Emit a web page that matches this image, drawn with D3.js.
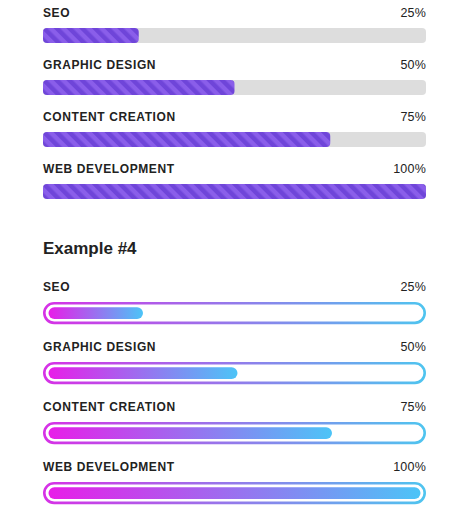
<!DOCTYPE html>
<html>
<head>
<meta charset="utf-8">
<script src="https://cdn.jsdelivr.net/npm/d3@7"></script>
<style>
  body { margin: 0; background: #fff; }
  text { font-family: "Liberation Sans", Arial, sans-serif; fill: #222; }
</style>
</head>
<body>
<svg width="474" height="525"></svg>
<script>
// data
var skills = ["SEO", "GRAPHIC DESIGN", "CONTENT CREATION", "WEB DEVELOPMENT"];
var values = [25, 50, 75, 100];
var heading = "Example #4";

var data = skills.map((s, i) => ({name: s, value: values[i]}));

var svg = d3.select("svg");
var defs = svg.append("defs");

// stripes for the first block
var pat = defs.append("pattern")
  .attr("id", "stripes")
  .attr("patternUnits", "userSpaceOnUse")
  .attr("width", 9).attr("height", 9)
  .attr("patternTransform", "rotate(-45)");
pat.append("rect").attr("width", 9).attr("height", 9).attr("fill", "#8a5eea");
pat.append("rect").attr("width", 4.5).attr("height", 9).attr("fill", "#6f45d9");

// gradients for the second block
var gOut = defs.append("linearGradient").attr("id", "gradOut");
gOut.append("stop").attr("offset", "0%").attr("stop-color", "#d631e6");
gOut.append("stop").attr("offset", "100%").attr("stop-color", "#4fc4ef");

var gIn = defs.append("linearGradient").attr("id", "gradIn");
gIn.append("stop").attr("offset", "0%").attr("stop-color", "#e81de8");
gIn.append("stop").attr("offset", "100%").attr("stop-color", "#4cc4f7");

// scales
var x = d3.scaleLinear().domain([0, 100]).range([43, 426]);
var y1 = d3.scaleBand().domain(skills).range([0, 208]);
var y2 = d3.scaleBand().domain(skills).range([274, 514]);

// ---- block 1: striped bars
var row1 = svg.selectAll("g.r1")
  .data(data)
  .enter()
  .append("g")
  .attr("class", "r1")
  .attr("transform", d => "translate(0," + y1(d.name) + ")");

row1.append("text")
  .attr("x", x(0)).attr("y", 17)
  .attr("font-size", 12).attr("font-weight", "bold")
  .attr("letter-spacing", 0.6)
  .text(d => d.name);

row1.append("text")
  .attr("x", x(100)).attr("y", 17)
  .attr("text-anchor", "end")
  .attr("font-size", 12.5).attr("letter-spacing", 0.2)
  .text(d => d.value + "%");

row1.append("rect")
  .attr("x", x(0)).attr("y", 28)
  .attr("width", x(100) - x(0)).attr("height", 15)
  .attr("rx", 4)
  .attr("fill", "#dddddd");

row1.append("rect")
  .attr("x", x(0)).attr("y", 28)
  .attr("width", d => x(d.value) - x(0)).attr("height", 15)
  .attr("rx", 4)
  .attr("fill", "url(#stripes)");

// heading
svg.append("text")
  .attr("x", 43).attr("y", 254)
  .attr("font-size", 17).attr("font-weight", "bold")
  .text(heading);

// ---- block 2: gradient bars
var xi = d3.scaleLinear().domain([0, 100]).range([48.5, 426.5]);
var trackEnd = 420.5;

var row2 = svg.selectAll("g.r2")
  .data(data)
  .enter()
  .append("g")
  .attr("class", "r2")
  .attr("transform", d => "translate(0," + y2(d.name) + ")");

row2.append("text")
  .attr("x", x(0)).attr("y", 17)
  .attr("font-size", 12).attr("font-weight", "bold")
  .attr("letter-spacing", 0.6)
  .text(d => d.name);

row2.append("text")
  .attr("x", x(100)).attr("y", 17)
  .attr("text-anchor", "end")
  .attr("font-size", 12.5).attr("letter-spacing", 0.2)
  .text(d => d.value + "%");

row2.append("rect")
  .attr("x", x(0) + 1.3).attr("y", 29.3)
  .attr("width", x(100) - x(0) - 2.6).attr("height", 19.6)
  .attr("rx", 9.8)
  .attr("fill", "none")
  .attr("stroke", "url(#gradOut)")
  .attr("stroke-width", 2.6);

row2.append("rect")
  .attr("x", xi(0)).attr("y", 33.2)
  .attr("width", d => Math.min(xi(d.value), trackEnd) - xi(0)).attr("height", 11.8)
  .attr("rx", 5.9)
  .attr("fill", "url(#gradIn)");
</script>
</body>
</html>
